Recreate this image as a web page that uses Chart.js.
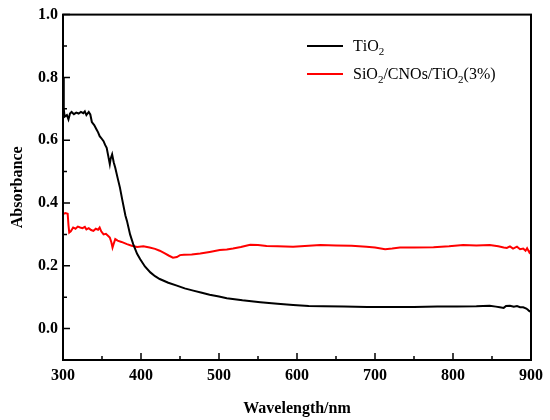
<!DOCTYPE html>
<html>
<head>
<meta charset="utf-8">
<script src="https://cdn.jsdelivr.net/npm/chart.js@4"></script>
<style>
	body { margin: 0; background: #fff; }
	canvas { display: block; }
</style>
</head>
<body>
<canvas id="chart" width="550" height="420"></canvas>
<script>
// values
const tio2Wl = [300, 301, 302, 305, 307, 309, 311, 314, 317, 320, 323, 326, 328, 330, 333, 335, 337, 340, 343, 345, 347, 349, 352, 354, 356, 358, 360, 361, 363, 365, 367, 370, 373, 376, 380, 382, 386, 390, 395, 399, 405, 412, 418, 424, 435, 446, 456, 467, 478, 488, 500, 510, 530, 553, 575, 595, 615, 634, 660, 690, 719, 750, 780, 805, 830, 847, 855, 860, 865, 868, 873, 878, 882, 886, 890, 894, 896, 898, 900];
const tio2Abs = [0.80, 0.70, 0.675, 0.68, 0.666, 0.685, 0.69, 0.683, 0.688, 0.685, 0.69, 0.686, 0.692, 0.68, 0.69, 0.682, 0.658, 0.648, 0.634, 0.625, 0.613, 0.607, 0.597, 0.585, 0.576, 0.55, 0.524, 0.54, 0.555, 0.53, 0.512, 0.48, 0.449, 0.41, 0.36, 0.343, 0.30, 0.269, 0.238, 0.221, 0.198, 0.179, 0.167, 0.158, 0.146, 0.137, 0.128, 0.121, 0.114, 0.108, 0.102, 0.097, 0.09, 0.084, 0.079, 0.075, 0.072, 0.071, 0.07, 0.069, 0.069, 0.069, 0.07, 0.07, 0.071, 0.073, 0.07, 0.068, 0.066, 0.072, 0.073, 0.07, 0.072, 0.068, 0.068, 0.064, 0.06, 0.055, 0.058];

const compWl = [300, 303, 306, 307, 308, 310, 313, 316, 319, 322, 325, 328, 330, 333, 336, 339, 342, 345, 347, 349, 352, 355, 358, 360, 362, 363.5, 365, 367, 370, 375, 382, 388, 395, 403, 411, 418, 424, 430, 436, 441, 446, 450, 455, 465, 476, 488, 501, 510, 518, 528, 540, 550, 561, 575, 595, 610, 630, 650, 670, 689, 700, 713, 722, 732, 750, 775, 795, 813, 830, 847, 858, 865, 869, 873, 877, 882, 886, 890, 893, 895, 898, 900];
const compAbs = [0.365, 0.368, 0.366, 0.33, 0.306, 0.31, 0.322, 0.318, 0.325, 0.322, 0.32, 0.324, 0.316, 0.32, 0.314, 0.311, 0.318, 0.315, 0.322, 0.31, 0.3, 0.302, 0.295, 0.29, 0.275, 0.258, 0.27, 0.285, 0.28, 0.276, 0.269, 0.264, 0.26, 0.262, 0.258, 0.254, 0.248, 0.24, 0.232, 0.226, 0.228, 0.234, 0.235, 0.236, 0.239, 0.244, 0.25, 0.252, 0.255, 0.26, 0.267, 0.266, 0.263, 0.262, 0.261, 0.263, 0.266, 0.265, 0.264, 0.261, 0.258, 0.253, 0.255, 0.258, 0.258, 0.259, 0.262, 0.266, 0.265, 0.266, 0.262, 0.258, 0.257, 0.262, 0.255, 0.261, 0.253, 0.255, 0.248, 0.256, 0.242, 0.25];

const seriesNames = ['TiO₂', 'SiO₂/CNOs/TiO₂(3%)'];
const seriesColors = ['#000000', '#ff0000'];

const serif = "'Liberation Serif', 'Times New Roman', serif";

function toPoints(xs, ys) {
	return xs.map((x, i) => ({ x: x, y: ys[i] }));
}

// inward ticks, box frame and the legend inside the plot
const frame = {
	id: 'frame',
	afterDraw(chart) {
		const c = chart.ctx;
		const a = chart.chartArea;
		const xs = chart.scales.x;
		const ys = chart.scales.y;
		c.save();
		c.strokeStyle = '#000';
		c.lineWidth = 2;
		c.strokeRect(a.left, a.top, a.right - a.left, a.bottom - a.top);

		c.lineWidth = 1.5;
		c.beginPath();
		xs.ticks.forEach(t => {
			let px = xs.getPixelForValue(t.value);
			let len = (Math.round(t.value) % 100 === 0) ? 7 : 4;
			c.moveTo(px, a.bottom);
			c.lineTo(px, a.bottom - len);
		});
		ys.ticks.forEach(t => {
			let py = ys.getPixelForValue(t.value);
			let n = Math.round(t.value * 10);
			let len = (n % 2 === 0) ? 7 : 4;
			c.moveTo(a.left, py);
			c.lineTo(a.left + len, py);
		});
		c.stroke();

		// legend
		let lx = 307, ly = 46;
		chart.data.datasets.forEach((ds, i) => {
			let y = ly + i * 28;
			c.strokeStyle = ds.borderColor;
			c.lineWidth = 2;
			c.beginPath();
			c.moveTo(lx, y);
			c.lineTo(lx + 36, y);
			c.stroke();

			c.fillStyle = '#000';
			c.textBaseline = 'alphabetic';
			let tx = lx + 46;
			for (const ch of ds.label) {
				if (ch === '₂') {
					c.font = '11px ' + serif;
					c.fillText('2', tx, y + 9);
					tx += c.measureText('2').width;
				} else {
					c.font = '16px ' + serif;
					c.fillText(ch, tx, y + 5);
					tx += c.measureText(ch).width;
				}
			}
		});
		c.restore();
	}
};

new Chart(document.getElementById('chart'), {
	type: 'line',
	data: {
		datasets: [
			{
				label: seriesNames[0],
				data: toPoints(tio2Wl, tio2Abs),
				borderColor: seriesColors[0],
				borderWidth: 2,
				pointRadius: 0,
				tension: 0
			},
			{
				label: seriesNames[1],
				data: toPoints(compWl, compAbs),
				borderColor: seriesColors[1],
				borderWidth: 2,
				pointRadius: 0,
				tension: 0
			}
		]
	},
	options: {
		responsive: false,
		animation: false,
		layout: { padding: { top: 13, right: 19, left: 0, bottom: 0 } },
		plugins: {
			legend: { display: false },
			tooltip: { enabled: false }
		},
		scales: {
			x: {
				type: 'linear',
				min: 300,
				max: 900,
				grid: { display: false, drawTicks: false },
				border: { display: false },
				afterFit: s => { s.height = 60; },
				ticks: {
					stepSize: 50,
					autoSkip: false,
					maxRotation: 0,
					padding: 6,
					color: '#000',
					font: { family: serif, size: 16, weight: 'bold' },
					callback: v => (Math.round(v) % 100 === 0 ? v : '')
				},
				title: {
					display: true,
					text: 'Wavelength/nm',
					color: '#000',
					font: { family: serif, size: 16, weight: 'bold' },
					padding: { bottom: 2 }
				}
			},
			y: {
				min: -0.1,
				max: 1.0,
				grid: { display: false, drawTicks: false },
				border: { display: false },
				afterFit: s => { s.width = 63; },
				ticks: {
					stepSize: 0.1,
					autoSkip: false,
					padding: 5,
					color: '#000',
					font: { family: serif, size: 16, weight: 'bold' },
					callback: v => {
						let n = Math.round(v * 10);
						return (n >= 0 && n % 2 === 0) ? (n / 10).toFixed(1) : '';
					}
				},
				title: {
					display: true,
					text: 'Absorbance',
					color: '#000',
					font: { family: serif, size: 16, weight: 'bold' },
					padding: { top: 8 }
				}
			}
		}
	},
	plugins: [frame]
});
</script>
</body>
</html>
